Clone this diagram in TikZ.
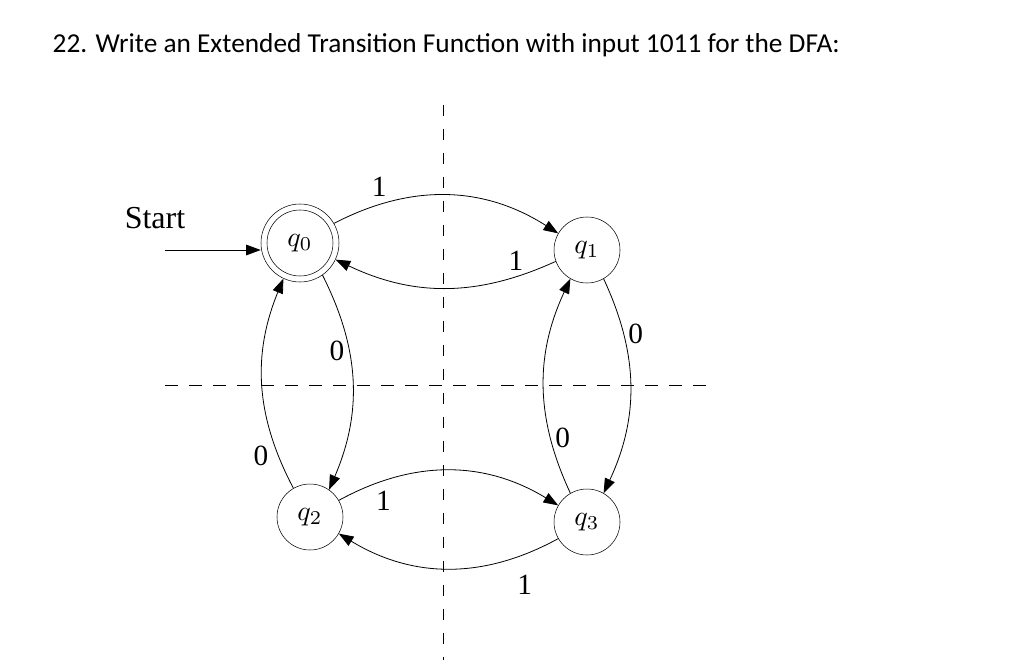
\documentclass[tikz,border=0pt]{standalone}
\usepackage{fontspec}
\setmainfont{Liberation Serif}
\newfontfamily\titlefont{Carlito}
\usetikzlibrary{arrows.meta}
\newcommand{\qlab}[1]{\scalebox{2.1}{$q_{#1}$}}
\begin{document}
\begin{tikzpicture}[x=0.75pt,y=-0.75pt,
  st/.style={draw,circle,minimum size=66*0.75pt,inner sep=0pt},
  tr/.style={->,>={Triangle[length=11pt,width=8pt]},line width=0.6pt},
  lb/.style={font=\fontsize{22}{24}\selectfont}]
\useasboundingbox (0,0) rectangle (1024,671);
\node[anchor=west,font=\titlefont\fontsize{20.5}{23}\selectfont] (title) at (48,45) {22. Write an Extended Transition Function with input 1011 for the DFA:};
\draw[dashed,dash pattern=on 10pt off 8pt] (165,385) -- (710,385);
\draw[dashed,dash pattern=on 8pt off 10pt] (443,105) -- (443,660);
\node[st,minimum size=78*0.75pt] (q0) at (300,243) {};
\node[st] (q0i) at (300,243) {\qlab{0}};
\node[st] (q1) at (587,250) {\qlab{1}};
\node[st] (q2) at (310,517) {\qlab{2}};
\node[st] (q3) at (587,522) {\qlab{3}};
\node[lb,font=\fontsize{24}{26}\selectfont] (start) at (155,218) {Start};
\coordinate (s) at (165,250);
\draw[tr] (s) -- (q0.west |- s);
\draw[tr] (q0.30) to[bend left=30] node[lb,above left,pos=0.25] {1} (q1.150);
\draw[tr] (q1.200) to[bend left=25] node[lb,above,pos=0.15,xshift=-4pt] {1} (q0.-25);
\draw[tr] (q0.-55) to[bend left=25] node[lb,left,pos=0.35] {0} (q2.55);
\draw[tr] (q2.120) to[bend left=25] node[lb,left,pos=0.15,xshift=-4pt] {0} (q0.-115);
\draw[tr] (q1.-60) to[bend left=25] node[lb,right,pos=0.25] {0} (q3.60);
\draw[tr] (q3.120) to[bend left=25] node[lb,right,pos=0.25] {0} (q1.-120);
\draw[tr] (q2.30) to[bend left=30] node[lb,below,pos=0.2,yshift=-4pt] {1} (q3.150);
\draw[tr] (q3.-150) to[bend left=30] node[lb,below,pos=0.15,yshift=-12pt] {1} (q2.-30);
\end{tikzpicture}
\end{document}
